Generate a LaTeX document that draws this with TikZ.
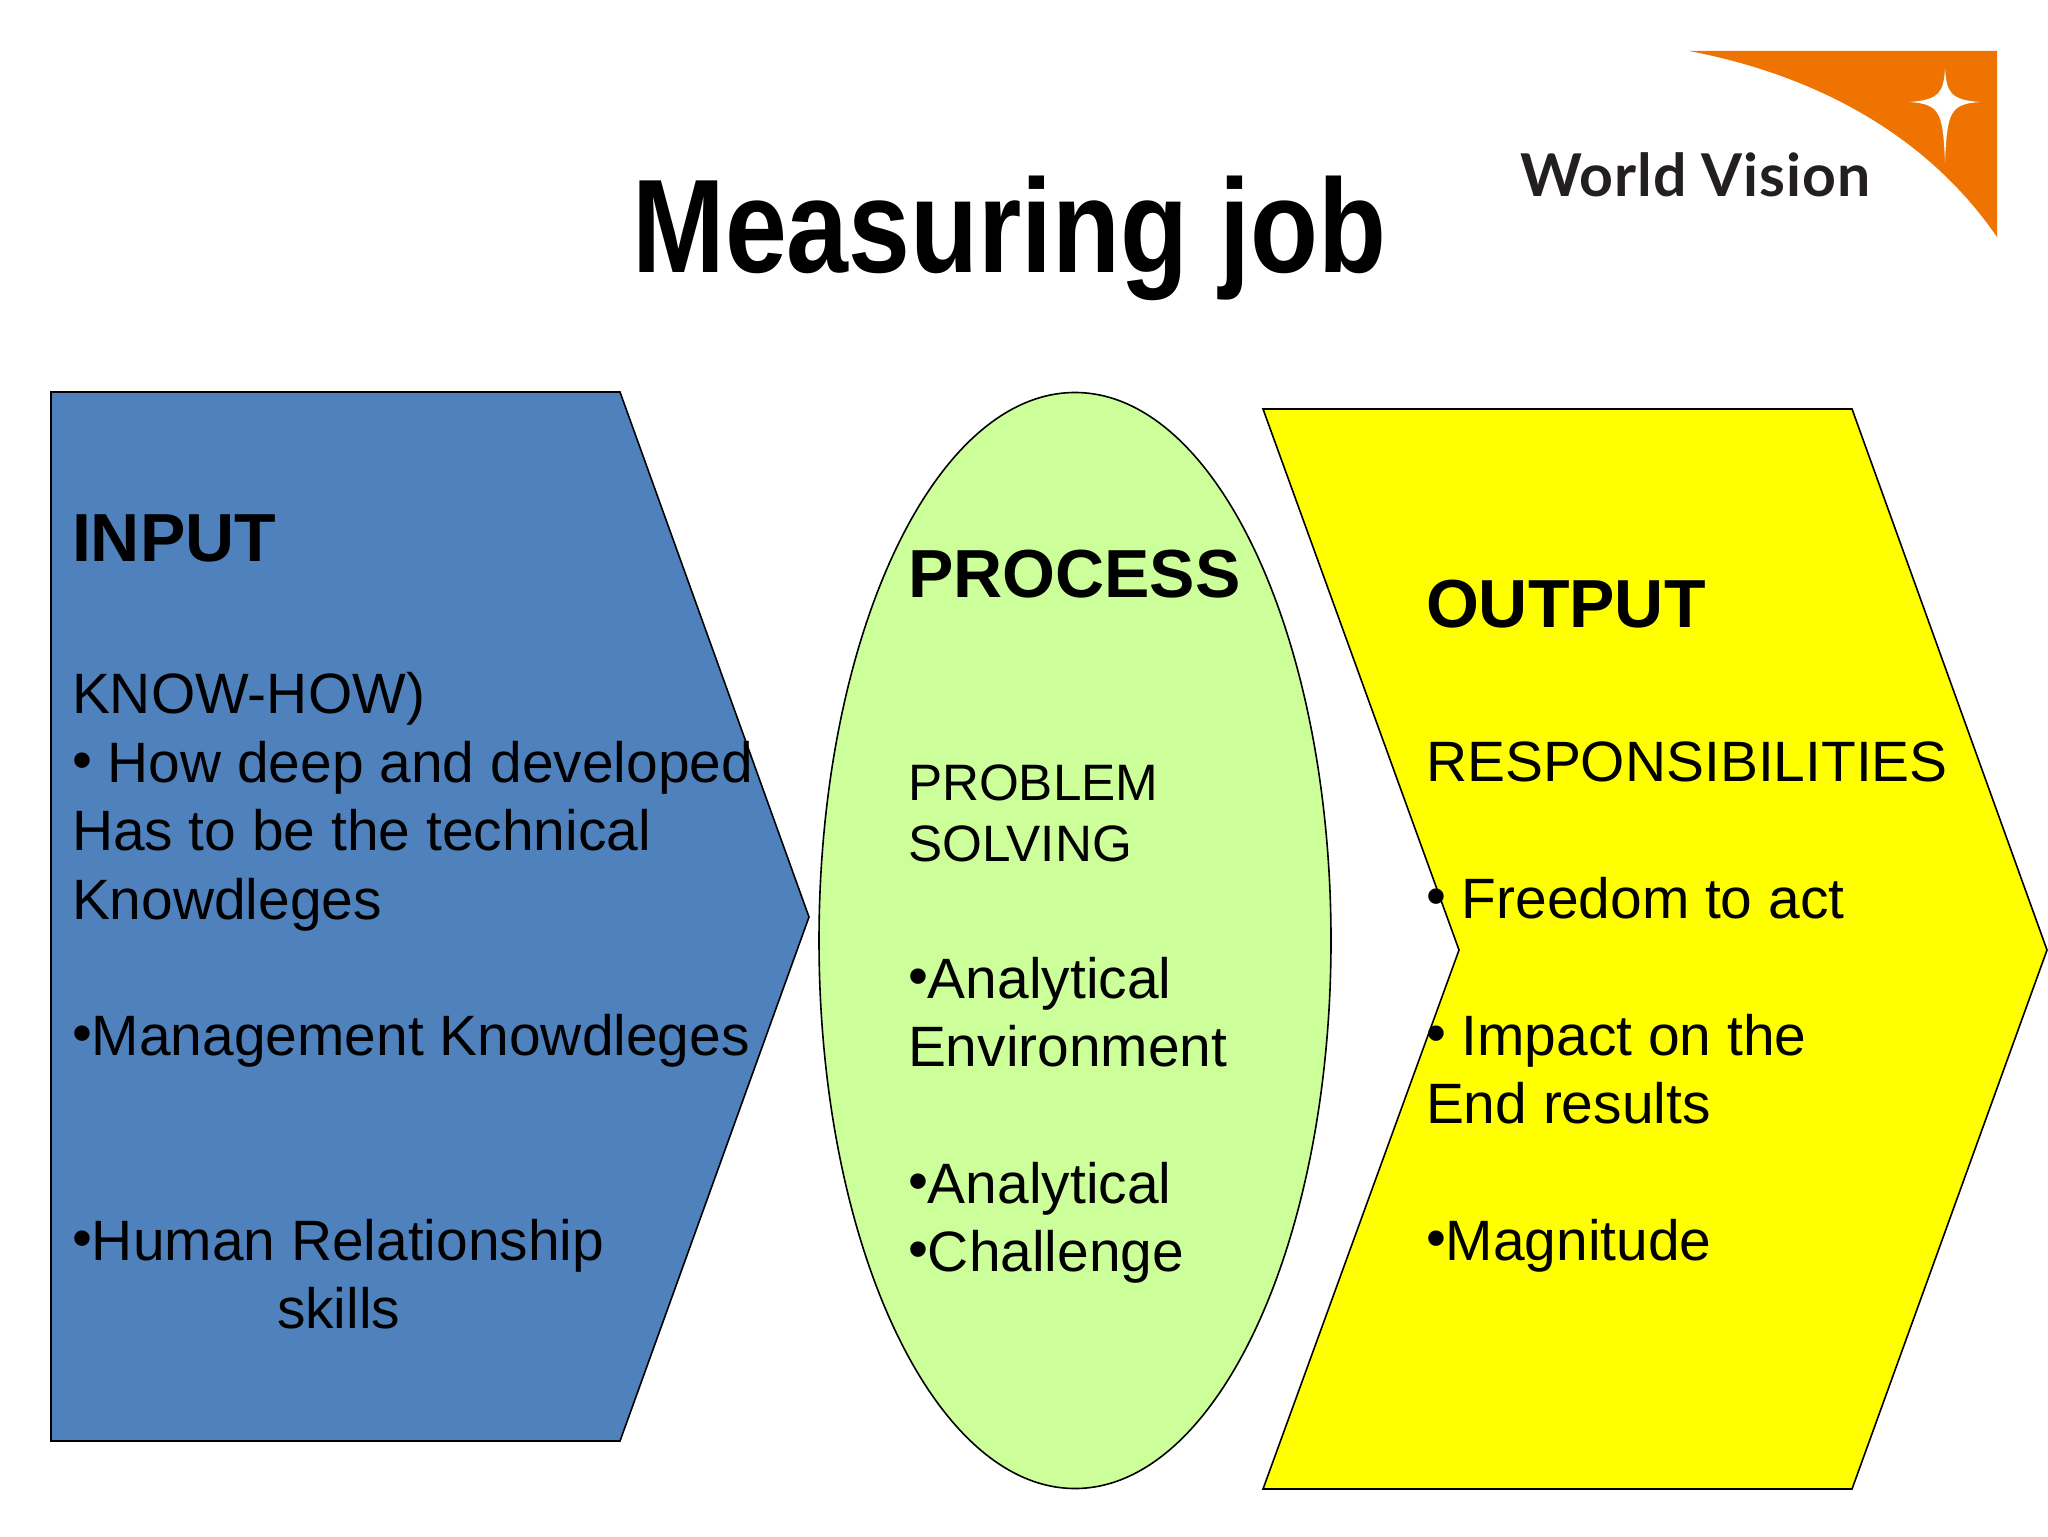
\documentclass[tikz,border=0pt]{standalone}
\usepackage{fontspec}
\setmainfont{Liberation Sans}
\newfontfamily\titlefont[FakeStretch=0.835]{Liberation Sans}
\newfontfamily\logofont[LetterSpace=1.5]{Lato}
\definecolor{inblue}{HTML}{4F81BD}
\definecolor{procgreen}{HTML}{CCFF99}
\definecolor{outyellow}{HTML}{FFFF00}
\definecolor{wvorange}{HTML}{EF7300}
\definecolor{wvtext}{HTML}{231F20}
\newcommand{\rb}{\raisebox{1.5pt}{•}}
\tikzset{
  panel/.style={draw=black,line width=0.8pt},
  body/.style={anchor=base west,inner sep=0pt,outer sep=0pt,font=\fontsize{28.45}{34}\selectfont},
  small/.style={anchor=base west,inner sep=0pt,outer sep=0pt,font=\fontsize{25.6}{30.6}\selectfont},
  head/.style={anchor=base west,inner sep=0pt,outer sep=0pt,font=\fontsize{34}{40}\selectfont\bfseries},
}
\begin{document}
\begin{tikzpicture}[x=0.5pt,y=-0.5pt]
\useasboundingbox (0,0) rectangle (2048,1536);
% logo
\fill[wvorange] (1689,51) -- (1997,51) -- (1997,237) .. controls (1920,125) and (1800,72) .. (1689,51) -- cycle;
\fill[white] (1945,68) .. controls (1946.5,92) and (1950,100) .. (1980,102)
  .. controls (1950,104) and (1947,112) .. (1945,163)
  .. controls (1943,112) and (1940,104) .. (1909,102)
  .. controls (1940,100) and (1943.5,92) .. (1945,68) -- cycle;
\node[anchor=base west,inner sep=0pt,text=wvtext,font=\logofont\bfseries\fontsize{29.5}{30}\selectfont] (logo) at (1520,196) {World Vision};
% title
\node[anchor=base west,inner sep=0pt,font=\titlefont\bfseries\fontsize{66.6}{70}\selectfont] (title) at (632,272) {Measuring job};
% shapes
\draw[panel,fill=inblue] (51,392) -- (620,392) -- (809,917) -- (620,1441) -- (51,1441) -- cycle;
\draw[panel,fill=procgreen] (1075,940.5) ellipse [x radius=256,y radius=548];
\draw[panel,fill=outyellow] (1263,409) -- (1852,409) -- (2047,950) -- (1852,1489) -- (1263,1489) -- (1459,950) -- cycle;
% input
\node[head] (inhead) at (72,561) {INPUT};
\node[body] (in1) at (72,713) {KNOW-HOW)};
\node[body] (in2) at (72,782) {\rb{} How deep and developed};
\node[body] (in3) at (72,850) {Has to be the technical};
\node[body] (in4) at (72,919) {Knowdleges};
\node[body] (in5) at (72,1055) {\rb Management Knowdleges};
\node[body] (in6) at (72,1260) {\rb Human Relationship};
\node[body] (in7) at (277,1328) {skills};
% process
\node[head] (prochead) at (908,597) {PROCESS};
\node[small] (pr1) at (908,800) {PROBLEM};
\node[small] (pr2) at (908,861) {SOLVING};
\node[body] (pr3) at (908,998) {\rb Analytical};
\node[body] (pr4) at (908,1066) {Environment};
\node[body] (pr5) at (908,1203) {\rb Analytical};
\node[body] (pr6) at (908,1271) {\rb Challenge};
% output
\node[head] (outhead) at (1426,627) {OUTPUT};
\node[body] (out1) at (1426,781) {RESPONSIBILITIES};
\node[body] (out2) at (1426,918) {\rb{} Freedom to act};
\node[body] (out3) at (1426,1055) {\rb{} Impact on the};
\node[body] (out4) at (1426,1123) {End results};
\node[body] (out5) at (1426,1260) {\rb Magnitude};
\end{tikzpicture}
\end{document}
